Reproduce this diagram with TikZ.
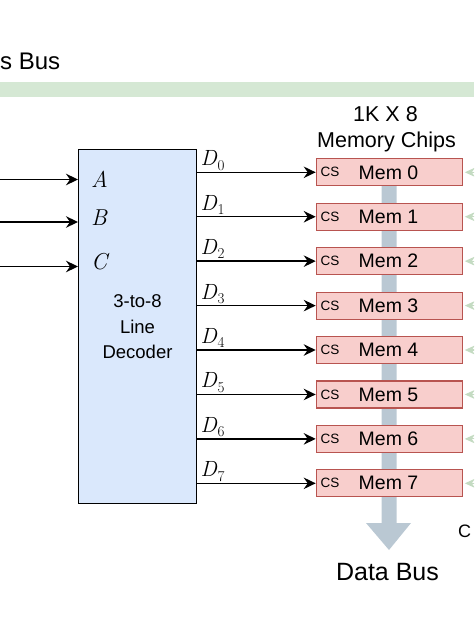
\documentclass[tikz,border=0pt]{standalone}
\usepackage{fontspec}
\setmainfont{Liberation Sans}
\newfontfamily\lmrfam{Latin Modern Roman}
\usetikzlibrary{arrows.meta}
\definecolor{decfill}{HTML}{DAE8FC}
\definecolor{memfill}{HTML}{F8CECC}
\definecolor{memdraw}{HTML}{B85450}
\definecolor{busgreen}{HTML}{D5E8D4}
\definecolor{busgray}{HTML}{BAC8D3}
\definecolor{arrgreen}{HTML}{C4DBC2}
\tikzset{
  sig/.style={line width=1.4pt, -{Stealth[length=12pt,width=11.5pt,inset=4pt]}},
  garrow/.style={draw=arrgreen, line width=1.2pt, -{Stealth[length=10pt,width=9pt,inset=3pt,fill=arrgreen]}},
  chip/.style={draw=memdraw, fill=memfill, line width=1.1pt, minimum width=146.5pt, minimum height=27pt, inner sep=0pt},
  cslbl/.style={font=\fontsize{13.5}{15}\selectfont, inner sep=0pt},
  memlbl/.style={font=\fontsize{19.5}{22}\selectfont, inner sep=0pt},
  declbl/.style={font=\fontsize{18.5}{21}\selectfont, inner sep=0pt, anchor=base},
  dlbl/.style={inner sep=0pt, anchor=base west, font=\lmrfam\fontsize{22}{25}\selectfont},
  inlbl/.style={inner sep=0pt, anchor=base west, font=\lmrfam\itshape\fontsize{23}{26}\selectfont},
  biglbl/.style={font=\fontsize{21.5}{25}\selectfont, inner sep=0pt, anchor=base},
}
\newcommand{\dsub}[1]{{\itshape D}\kern0.6pt\raisebox{-4.3pt}{\fontsize{15}{17}\selectfont #1}}
\begin{document}
\begin{tikzpicture}[x=1pt,y=-1pt]
\useasboundingbox (0,0) rectangle (474,631);
\clip (0,0) rectangle (474,631);
% address bus
\node[font=\fontsize{24}{28}\selectfont, inner sep=0pt, anchor=base west] (abuslbl) at (0,70) {s Bus};
\node[fill=busgreen, minimum width=474pt, minimum height=15pt, inner sep=0pt, anchor=north west] (abus) at (0,82) {};
% memory title
\node[biglbl] (title1) at (385.5,122) {1K X 8};
\node[biglbl] (title2) at (386.5,148) {Memory Chips};
% data bus arrow
\fill[busgray] (381.7,171) -- (396.7,171) -- (396.7,523) -- (411,523) -- (389,550) -- (366,523) -- (381.7,523) -- cycle;
\node[font=\fontsize{25}{29}\selectfont, inner sep=0pt, anchor=base] (dbuslbl) at (387.5,580) {Data Bus};
\node[font=\fontsize{18}{21}\selectfont, inner sep=0pt, anchor=base west] (clbl) at (458,537) {C};
% decoder
\node[draw, fill=decfill, line width=1.2pt, minimum width=118pt, minimum height=354pt, inner sep=0pt, anchor=north west] (dec) at (78,149) {};
\node[declbl] (dt1) at (137.5,307) {3-to-8};
\node[declbl] (dt2) at (137.5,333) {Line};
\node[declbl] (dt3) at (137.5,358.5) {Decoder};
% inputs
\coordinate (inA) at (0,179.5);
\coordinate (inB) at (0,222);
\coordinate (inC) at (0,266.5);
\draw[sig] (inA) -- (dec.west |- inA);
\draw[sig] (inB) -- (dec.west |- inB);
\draw[sig] (inC) -- (dec.west |- inC);
\node[inlbl] (la) at (91,187) {A};
\node[inlbl] (lb) at (91,225) {B};
\node[inlbl] (lc) at (91,269.5) {C};
% chips and outputs
\foreach \i in {0,...,7}{
  \pgfmathsetmacro{\yy}{172.3+44.43*\i}
  \node[chip] (m\i) at (389.5,\yy) {};
  \node[cslbl] (cs\i) at (330,\yy) {CS};
  \node[memlbl] (mt\i) at (388.5,\yy) {Mem \i};
  \draw[sig] (dec.east |- m\i.west) -- (m\i.west);
  \node[dlbl] (d\i) at (200.5,\yy-6.5) {\dsub{\i}};
  \coordinate (g\i) at (492,\yy);
  \draw[garrow, shorten >=1.5pt] (g\i) -- (m\i.east);
}
\end{tikzpicture}
\end{document}
